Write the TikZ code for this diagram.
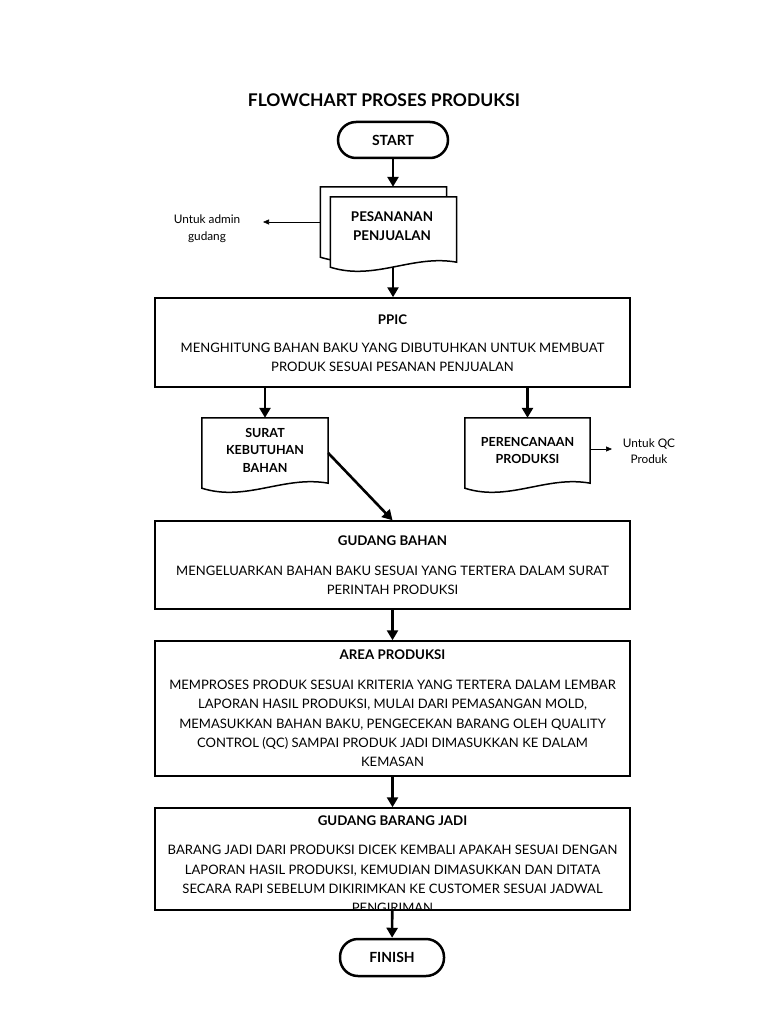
\documentclass[tikz,border=0pt]{standalone}
\usepackage{fontspec}
\setmainfont{Lato}
\usetikzlibrary{positioning,arrows.meta,calc}

% wavy document outline round a node
\newcommand{\docshape}[1]{\draw[docline] (#1.north west) -- (#1.north east) -- ([yshift=5pt]#1.south east) .. controls ($(#1.south west)!0.65!(#1.south east)+(0,-13)$) and ($(#1.south west)!0.35!(#1.south east)+(0,14)$) .. (#1.south west) -- cycle;}

\begin{document}
\begin{tikzpicture}[x=1pt, y=-1pt,
		box/.style = {draw, line width=1.5pt, minimum width=475pt, inner sep=0pt},
		pill/.style = {draw, line width=2.5pt, rounded corners=18pt, inner sep=0pt, font=\bfseries\fontsize{14}{16}\selectfont},
		docnode/.style = {inner sep=0pt, minimum width=126pt, minimum height=70pt},
		docline/.style = {line width=1.5pt, fill=white},
		headtxt/.style = {font=\bfseries\fontsize{13.3}{16}\selectfont},
		bodytxt/.style = {align=center, inner sep=0pt, font=\fontsize{13.05}{19.3}\selectfont},
		doctxt/.style = {align=center, inner sep=0pt, font=\bfseries\fontsize{12.5}{17.5}\selectfont},
		notetxt/.style = {align=center, inner sep=0pt, font=\fontsize{11.8}{16.5}\selectfont},
		flow/.style = {line width=2.6pt, -{Triangle[length=10pt, width=11pt]}},
		thin/.style = {line width=0.6pt, -{Triangle[length=6pt, width=5pt]}}]
	\useasboundingbox (0, 0) rectangle (768, 1024);
	\fill [white] (0, 0) rectangle (768, 1024);

	% title and terminals
	\node [font=\bfseries\fontsize{17.5}{20}\selectfont] (title) at (384, 100) {FLOWCHART PROSES PRODUKSI};
	\node [pill, minimum width=110pt, minimum height=36pt] (start) at (393, 140) {START};
	\node [pill, minimum width=104pt, minimum height=37pt] (finish) at (392, 957.5) {FINISH};

	% documents
	\node [docnode] (pesback) at (383.5, 222) {};
	\node [docnode] (pesanan) at (393.5, 232) {};
	\docshape{pesback}
	\docshape{pesanan}
	\node [align=center, inner sep=0pt, font=\bfseries\fontsize{13.4}{19}\selectfont] at (392, 226.5) {PESANANAN\\PENJUALAN};
	\node [docnode] (surat) at (265, 453) {};
	\docshape{surat}
	\node [doctxt] at (265, 450) {SURAT\\KEBUTUHAN\\BAHAN};
	\node [docnode, minimum width=125pt] (rencana) at (527.5, 453) {};
	\docshape{rencana}
	\node [doctxt] at (527.5, 450.5) {PERENCANAAN\\PRODUKSI};

	% notes
	\node [notetxt] (admin) at (207, 228.5) {Untuk admin\\gudang};
	\node [notetxt] (qc) at (649, 451) {Untuk QC\\Produk};
	\coordinate (adminend) at (263, 222);
	\coordinate (qcend) at (612, 449);

	% process boxes
	\node [box, minimum height=89pt] (ppic) at (392.5, 342.5) {};
	\node [headtxt] at (392.5, 320) {PPIC};
	\node [bodytxt] at (392.5, 357.5) {MENGHITUNG BAHAN BAKU YANG DIBUTUHKAN UNTUK MEMBUAT\\PRODUK SESUAI PESANAN PENJUALAN};

	\node [box, minimum height=88pt] (gbahan) at (392.5, 565) {};
	\node [headtxt] at (392.5, 541) {GUDANG BAHAN};
	\node [bodytxt] at (392.5, 580.5) {MENGELUARKAN BAHAN BAKU SESUAI YANG TERTERA DALAM SURAT\\PERINTAH PRODUKSI};

	\node [box, minimum height=135pt] (area) at (392.5, 708.5) {};
	\node [headtxt] at (392.5, 655) {AREA PRODUKSI};
	\node [bodytxt] at (392.5, 723.5) {MEMPROSES PRODUK SESUAI KRITERIA YANG TERTERA DALAM LEMBAR\\LAPORAN HASIL PRODUKSI, MULAI DARI PEMASANGAN MOLD,\\MEMASUKKAN BAHAN BAKU, PENGECEKAN BARANG OLEH QUALITY\\CONTROL (QC) SAMPAI PRODUK JADI DIMASUKKAN KE DALAM\\KEMASAN};

	\node [box, minimum height=102pt] (gjadi) at (392.5, 859) {};
	\node [headtxt] at (392.5, 821) {GUDANG BARANG JADI};
	\begin{scope}
		\clip (gjadi.north west) rectangle (gjadi.south east);
		\node [bodytxt] at (392.5, 879) {BARANG JADI DARI PRODUKSI DICEK KEMBALI APAKAH SESUAI DENGAN\\LAPORAN HASIL PRODUKSI, KEMUDIAN DIMASUKKAN DAN DITATA\\SECARA RAPI SEBELUM DIKIRIMKAN KE CUSTOMER SESUAI JADWAL\\PENGIRIMAN};
	\end{scope}

	% connectors
	\draw [flow] (start.south) -- (start.south |- pesback.north);
	\draw [flow] (pesanan.south -| start.south) -- (ppic.north -| start.south);
	\draw [flow] (ppic.south -| surat.north) -- (surat.north);
	\draw [flow] (ppic.south -| rencana.north) -- (rencana.north);
	\draw [flow] (surat.east) -- (gbahan.north);
	\draw [flow] (gbahan) -- (area);
	\draw [flow] (area) -- (gjadi);
	\draw [flow] (gjadi) -- (finish);
	\draw [thin] (pesback.west) -- (adminend);
	\draw [thin] (rencana.east |- qcend) -- (qcend);
\end{tikzpicture}
\end{document}
